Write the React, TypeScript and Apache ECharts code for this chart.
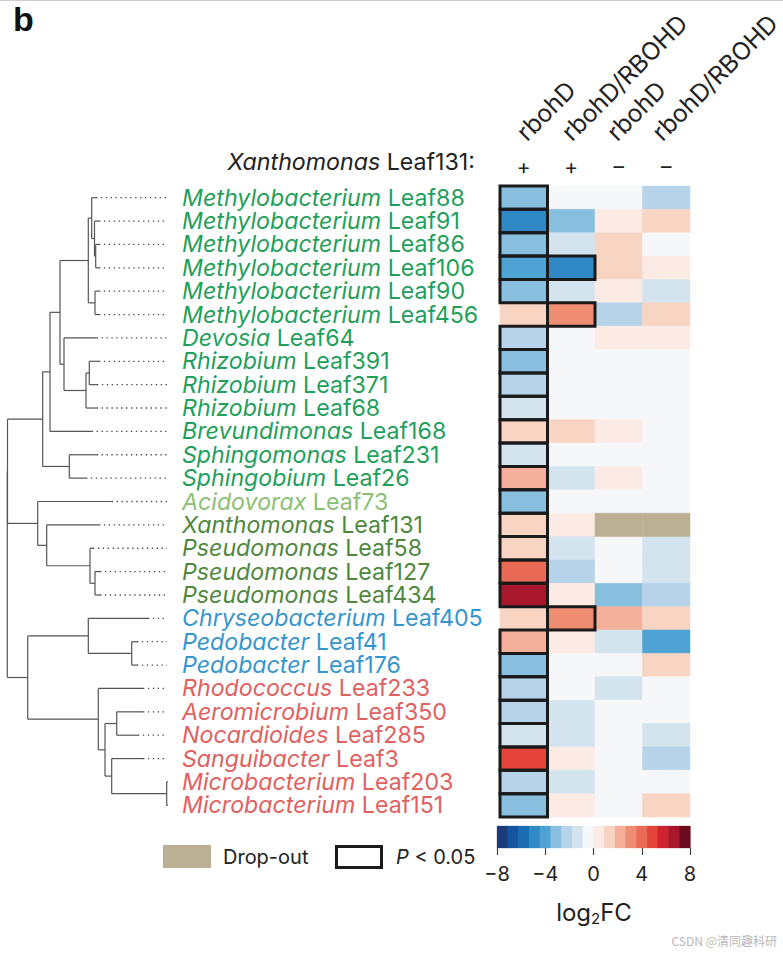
import React, { useEffect, useRef } from "react";
import * as echarts from "echarts";

const FONT = "Inter, 'Noto Sans', 'DejaVu Sans', sans-serif";

const COLUMN_LABELS = ["rbohD", "rbohD/RBOHD", "rbohD", "rbohD/RBOHD"];
const INFECTION_SIGNS = ["+", "+", "–", "–"];

const GENUS = [
  "Methylobacterium", "Methylobacterium", "Methylobacterium", "Methylobacterium",
  "Methylobacterium", "Methylobacterium", "Devosia", "Rhizobium", "Rhizobium",
  "Rhizobium", "Brevundimonas", "Sphingomonas", "Sphingobium", "Acidovorax",
  "Xanthomonas", "Pseudomonas", "Pseudomonas", "Pseudomonas", "Chryseobacterium",
  "Pedobacter", "Pedobacter", "Rhodococcus", "Aeromicrobium", "Nocardioides",
  "Sanguibacter", "Microbacterium", "Microbacterium",
];
const STRAIN = [
  "Leaf88", "Leaf91", "Leaf86", "Leaf106", "Leaf90", "Leaf456", "Leaf64", "Leaf391",
  "Leaf371", "Leaf68", "Leaf168", "Leaf231", "Leaf26", "Leaf73", "Leaf131", "Leaf58",
  "Leaf127", "Leaf434", "Leaf405", "Leaf41", "Leaf176", "Leaf233", "Leaf350", "Leaf285",
  "Leaf3", "Leaf203", "Leaf151",
];
// colour group of each label
const LABEL_GROUP = [0, 0, 0, 0, 0, 0, 0, 0, 0, 0, 0, 0, 0, 1, 2, 2, 2, 2, 3, 3, 3, 4, 4, 4, 4, 4, 4];
const GROUP_COLORS = ["#1f9f5b", "#8cbf76", "#4f873e", "#3595cd", "#e0615f"];

// log2FC per column (rows top to bottom)
const COL1 = [-3.1, -4.9, -3.1, -4.0, -3.1, 1.3, -2.2, -3.1, -2.2, -1.3, 1.3, -1.3, 2.2, -3.1, 1.3, 1.3, 4.0, 6.7, 1.3, 2.2, -3.1, -2.2, -2.2, -1.3, 4.9, -2.2, -3.1];
const COL2 = [-0.3, -3.1, -1.3, -4.9, -1.3, 3.1, -0.3, -0.3, -0.3, -0.3, 1.3, -0.3, -1.3, -0.3, 0.4, -1.3, -2.2, 0.4, 3.1, 0.4, -0.3, -0.3, -1.3, -1.3, 0.4, -1.3, 0.4];
const COL3 = [-0.3, 0.4, 1.3, 1.3, 0.4, -2.2, 0.4, -0.3, -0.3, -0.3, 0.4, -0.3, 0.4, -0.3, null, -0.3, -0.3, -3.1, 2.2, -1.3, -0.3, -1.3, -0.3, -0.3, -0.3, -0.3, -0.3];
const COL4 = [-2.2, 1.3, -0.3, 0.4, -1.3, 1.3, 0.4, -0.3, -0.3, -0.3, -0.3, -0.3, -0.3, -0.3, null, -1.3, -1.3, -2.2, 1.3, -4.0, 1.3, -0.3, -0.3, -1.3, -2.2, -0.3, 1.3];
const COLUMNS_DATA = [COL1, COL2, COL3, COL4];

// significant cells (P < 0.05): row indices per column
const SIG_COL1 = [0, 1, 2, 3, 4, 6, 7, 8, 9, 10, 11, 12, 13, 14, 15, 16, 17, 19, 20, 21, 22, 23, 24, 25, 26];
const SIG_COL2 = [3, 5, 18];
const SIG_BY_COLUMN = [SIG_COL1, SIG_COL2, [], []];

// discrete colour scale, -8..8 in 18 steps
const SCALE_MIN = -8;
const SCALE_MAX = 8;
const SCALE_TICK_STEP = 4;
const SCALE_COLORS = [
  "#1c3b7a", "#13569f", "#1a6eb3", "#3089c5", "#4fa2d4", "#88bfdf", "#b6d3e9", "#d4e4ef", "#f6f7f9",
  "#fcebe4", "#f8d4c3", "#f4b09a", "#ee8d72", "#e96b55", "#e4433a", "#cf2230", "#a8172b", "#6b0a1d",
];
const DROPOUT_COLOR = "#bbb094";

// dendrogram: [height, left, right]; leaves are row indices
const TREE: any = [7.3,
  [7.5,
    [42.7,
      [50,
        [60,
          [88.3,
            [91.7, 0, [94.5, 1, [95.7, 2, 3]]],
            [95, 4, 5],
          ],
          [64, 6, [86, [89.3, 7, 8], 9]],
        ],
        10,
      ],
      [69.3, 11, 12],
    ],
    [37.7, 13, [46.7, 14, [90, 15, [95, 16, 17]]]],
  ],
  [27.7,
    [88.3, 18, [131.7, 19, 20]],
    [98.3, 21, [105, [116.7, 22, 23], [111.7, 24, [166.7, 25, 26]]]],
  ],
];
const LEAF_TIPS = [96, 99, 99, 99, 99, 99, 96.7, 99, 97, 96.7, 91.7, 96.7, 86, 111.7, 99, 93, 100, 100, 148, 137, 137, 143, 143, 138, 143, 168, 168];
const DOT_END = 167;

function colorOf(v: number) {
  const n = SCALE_COLORS.length;
  let i = Math.floor(((v - SCALE_MIN) / (SCALE_MAX - SCALE_MIN)) * n);
  if (i < 0) i = 0;
  if (i > n - 1) i = n - 1;
  return SCALE_COLORS[i];
}

function buildTreeSegments() {
  const segs: number[][] = [];
  const walk = (node: any, parentX: number | null): number => {
    if (typeof node === "number") {
      const tip = LEAF_TIPS[node];
      segs.push([parentX as number, node, tip, node, 0]);
      if (tip < DOT_END) segs.push([tip, node, DOT_END, node, 1]);
      return node;
    }
    const [h, l, r] = node;
    const yl = walk(l, h);
    const yr = walk(r, h);
    segs.push([h, yl, h, yr, 0]);
    const y = (yl + yr) / 2;
    if (parentX !== null) segs.push([parentX, y, h, y, 0]);
    return y;
  };
  walk(TREE, null);
  return segs;
}

export default function App() {
  const ref = useRef<HTMLDivElement>(null);
  useEffect(() => {
    document.body.style.margin = "0";
    const chart = echarts.init(ref.current!, undefined, { renderer: "svg" });

    const rowNames = GENUS.map((g, i) => `${g} ${STRAIN[i]}`);
    const cells: number[][] = [];
    const dropouts: number[][] = [];
    COLUMNS_DATA.forEach((col, c) => {
      col.forEach((v, r) => {
        if (v === null) dropouts.push([c, r]);
        else cells.push([c, r, v as number]);
      });
    });
    const sigCells: number[][] = [];
    SIG_BY_COLUMN.forEach((rows, c) => rows.forEach((r) => sigCells.push([c, r])));

    const step = (SCALE_MAX - SCALE_MIN) / SCALE_COLORS.length;
    const bins = SCALE_COLORS.map((_, i) => [SCALE_MIN + i * step, SCALE_MIN + (i + 1) * step, i]);

    const LABEL_SIZE = 23.2;
    const rich: any = {};
    GROUP_COLORS.forEach((c, g) => {
      rich["i" + g] = { color: c, fontStyle: "italic", fontSize: LABEL_SIZE, lineHeight: 20, fontFamily: FONT };
      rich["n" + g] = { color: c, fontSize: LABEL_SIZE, lineHeight: 20, fontFamily: FONT };
    });

    const cellRect = (params: any, api: any, fill: string | null, stroke: boolean) => {
      const p = api.coord([api.value(0), api.value(1)]);
      const s = api.size([1, 1]);
      return {
        type: "rect",
        shape: { x: p[0] - s[0] / 2, y: p[1] - s[1] / 2, width: s[0], height: s[1] },
        style: stroke
          ? { fill: "none", stroke: "#1a1a1a", lineWidth: 3 }
          : { fill: fill, stroke: fill, lineWidth: 0.5 },
      };
    };

    const option: any = {
      animation: false,
      backgroundColor: "#ffffff",
      textStyle: { fontFamily: FONT },
      grid: [
        { left: 500, top: 186, width: 190, height: 631 },
        { left: 498, top: 142, width: 190, height: 600 },
        { left: 0, top: 186, width: 170, height: 631 },
        { left: 497, top: 826, width: 193, height: 22 },
      ],
      xAxis: [
        {
          gridIndex: 0, type: "category", position: "top", data: ["0", "1", "2", "3"],
          axisLine: { show: false }, axisTick: { show: false }, splitLine: { show: false },
          axisLabel: {
            interval: 0, margin: 11, fontSize: 21, lineHeight: 18, color: "#222", fontFamily: FONT,
            formatter: (_: any, i: number) => INFECTION_SIGNS[i],
          },
        },
        {
          gridIndex: 1, type: "category", position: "top", data: ["0", "1", "2", "3"],
          axisLine: { show: false }, axisTick: { show: false }, splitLine: { show: false },
          axisLabel: {
            interval: 0, margin: 6, rotate: -45, fontSize: 24.5, lineHeight: 20, color: "#222", fontFamily: FONT,
            formatter: (_: any, i: number) => COLUMN_LABELS[i],
          },
        },
        { gridIndex: 2, type: "value", min: 0, max: 170, show: false },
        {
          gridIndex: 3, type: "value", min: SCALE_MIN, max: SCALE_MAX, interval: SCALE_TICK_STEP, position: "bottom",
          axisLine: { show: false }, splitLine: { show: false },
          axisTick: { show: true, length: 7, lineStyle: { color: "#444", width: 1.2 } },
          axisLabel: {
            margin: 16, fontSize: 20, color: "#222", fontFamily: FONT,
            formatter: (v: number) => (v < 0 ? "−" + Math.abs(v) : String(v)),
          },
        },
      ],
      yAxis: [
        {
          gridIndex: 0, type: "category", data: rowNames, inverse: true,
          axisLine: { show: false }, axisTick: { show: false }, splitLine: { show: false },
          axisLabel: {
            interval: 0, align: "left", margin: 318, fontSize: LABEL_SIZE, lineHeight: 20, fontFamily: FONT, rich,
            formatter: (_: any, i: number) => {
              const g = LABEL_GROUP[i];
              return `{i${g}|${GENUS[i]}}{n${g}| ${STRAIN[i]}}`;
            },
          },
        },
        { gridIndex: 1, type: "category", data: ["a"], show: false },
        { gridIndex: 2, type: "value", min: -0.5, max: 26.5, inverse: true, show: false },
        { gridIndex: 3, type: "value", min: 0, max: 1, show: false },
      ],
      series: [
        {
          type: "custom", name: "log2FC", xAxisIndex: 0, yAxisIndex: 0, data: cells, z: 2,
          renderItem: (params: any, api: any) => cellRect(params, api, colorOf(api.value(2)), false),
        },
        {
          type: "custom", name: "Drop-out", xAxisIndex: 0, yAxisIndex: 0, data: dropouts, z: 2,
          renderItem: (params: any, api: any) => cellRect(params, api, DROPOUT_COLOR, false),
        },
        {
          type: "custom", name: "P < 0.05", xAxisIndex: 0, yAxisIndex: 0, data: sigCells, z: 5,
          renderItem: (params: any, api: any) => cellRect(params, api, null, true),
        },
        {
          type: "custom", name: "tree", xAxisIndex: 2, yAxisIndex: 2, data: buildTreeSegments(),
          encode: { x: [0, 2], y: [1, 3] },
          renderItem: (params: any, api: any) => {
            const p1 = api.coord([api.value(0), api.value(1)]);
            const p2 = api.coord([api.value(2), api.value(3)]);
            const dotted = api.value(4) === 1;
            return {
              type: "line",
              shape: { x1: p1[0], y1: p1[1], x2: p2[0], y2: p2[1] },
              style: dotted
                ? { stroke: "#444", lineWidth: 1.3, lineDash: [1.3, 3.6] }
                : { stroke: "#555", lineWidth: 1.2 },
            };
          },
        },
        {
          type: "custom", name: "colorbar", xAxisIndex: 3, yAxisIndex: 3, data: bins,
          encode: { x: [0, 1] },
          renderItem: (params: any, api: any) => {
            const a = api.coord([api.value(0), 1]);
            const b = api.coord([api.value(1), 0]);
            const c = SCALE_COLORS[api.value(2)];
            return {
              type: "rect",
              shape: { x: a[0], y: a[1], width: b[0] - a[0] + 0.4, height: b[1] - a[1] },
              style: { fill: c, stroke: c, lineWidth: 0.3 },
            };
          },
        },
      ],
      graphic: [
        { type: "line", shape: { x1: 0, y1: 0.5, x2: 783, y2: 0.5 }, style: { stroke: "#d0d0d0", lineWidth: 1 } },
        {
          type: "text", x: 13, y: 19,
          style: { text: "b", fontSize: 34, fontWeight: "bold", fill: "#111", fontFamily: "'Liberation Sans', Arial, sans-serif", textVerticalAlign: "middle" },
        },
        {
          type: "text", x: 475, y: 162,
          style: {
            text: "{i|Xanthomonas} Leaf131:", fontSize: LABEL_SIZE, fill: "#222", fontFamily: FONT,
            textAlign: "right", textVerticalAlign: "middle",
            rich: { i: { fontStyle: "italic", fontSize: LABEL_SIZE, fill: "#222", fontFamily: FONT } },
          },
        },
        { type: "rect", shape: { x: 163, y: 845, width: 48, height: 23 }, style: { fill: DROPOUT_COLOR } },
        {
          type: "text", x: 223, y: 857,
          style: { text: "Drop-out", fontSize: 20, fill: "#222", fontFamily: FONT, textVerticalAlign: "middle" },
        },
        { type: "rect", shape: { x: 336.5, y: 846.5, width: 45, height: 21 }, style: { fill: "#fff", stroke: "#1a1a1a", lineWidth: 3 } },
        {
          type: "text", x: 396, y: 857,
          style: {
            text: "{i|P} < 0.05", fontSize: 20, fill: "#222", fontFamily: FONT, textVerticalAlign: "middle",
            rich: { i: { fontStyle: "italic", fontSize: 20, fill: "#222", fontFamily: FONT } },
          },
        },
        {
          type: "text", x: 594, y: 912,
          style: {
            text: "log{s|2}FC", fontSize: 24, fill: "#222", fontFamily: FONT,
            textAlign: "center", textVerticalAlign: "middle",
            rich: { s: { fontSize: 15, fill: "#222", fontFamily: FONT, padding: [13, 0, 0, 0] } },
          },
        },
        {
          type: "text", x: 777, y: 940,
          style: {
            text: "CSDN @清同趣科研", fontSize: 12, fill: "#b8b8b8",
            fontFamily: "'Noto Sans CJK SC', 'Noto Sans', sans-serif", textAlign: "right", textVerticalAlign: "middle",
          },
        },
      ],
    };
    chart.setOption(option);
    return () => chart.dispose();
  }, []);
  return <div ref={ref} style={{ width: 783, height: 953 }} />;
}
